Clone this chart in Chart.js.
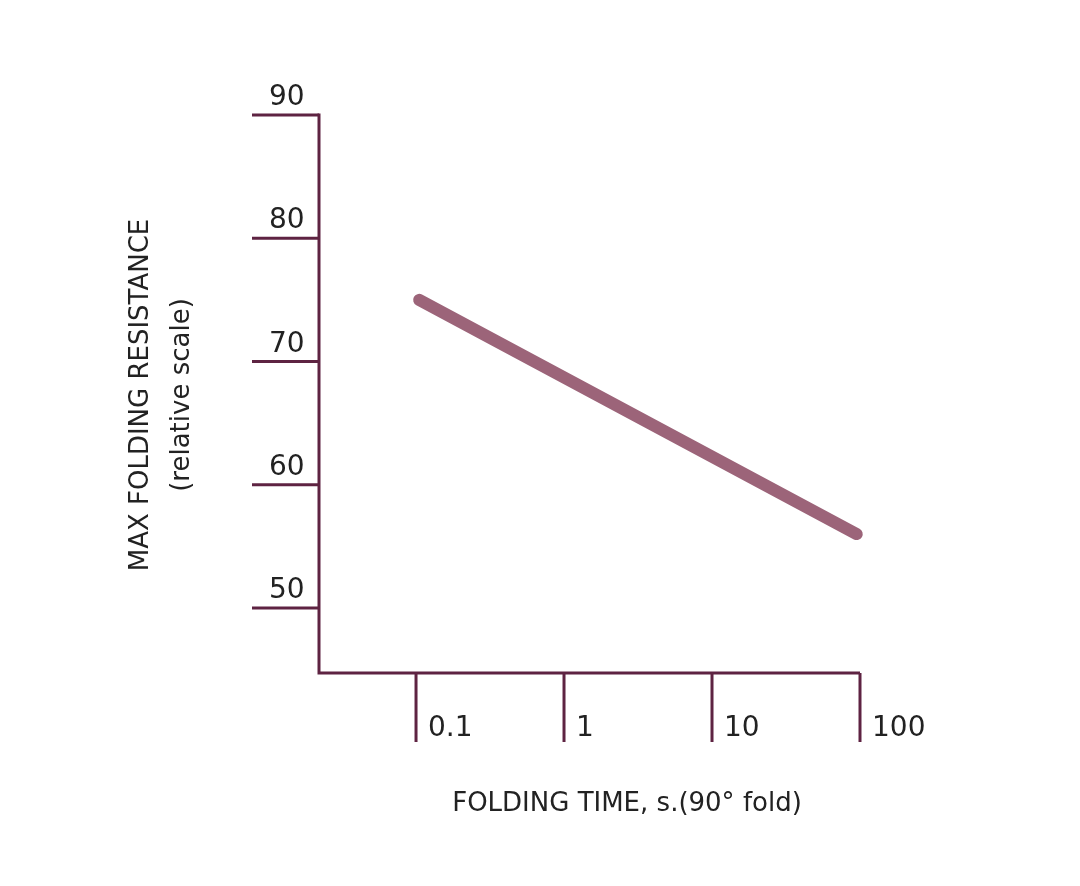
<!DOCTYPE html>
<html>
<head>
<meta charset="utf-8">
<script src="https://cdn.jsdelivr.net/npm/chart.js@4"></script>
<style>
  html, body { margin: 0; padding: 0; background: #fff; }
  #wrap { width: 1080px; height: 886px; }
</style>
</head>
<body>
<div id="wrap"><canvas id="fold"></canvas></div>
<script>
const foldTime = [0.105, 95];
const resistance = [75, 56];
const xTicks = [0.1, 1, 10, 100];
const xTickLabels = ['0.1', '1', '10', '100'];
const yTicks = [50, 60, 70, 80, 90];
const yTitle = ['MAX FOLDING RESISTANCE', '(relative scale)'];
const xTitle = 'FOLDING TIME, s.(90° fold)';

const axisColor = '#5e2342';
const textColor = '#222';
const font = '"DejaVu Sans", sans-serif';

const axesPlugin = {
    id: 'axesPlugin',
    beforeDatasetsDraw(chart) {
        const { ctx, chartArea: a, scales: { x, y } } = chart;
        ctx.save();
        ctx.strokeStyle = axisColor;
        ctx.lineWidth = 3;
        ctx.lineCap = 'butt';
        ctx.beginPath();
        ctx.moveTo(a.left, y.getPixelForValue(90) - 1.5);
        ctx.lineTo(a.left, a.bottom);
        ctx.lineTo(x.getPixelForValue(100), a.bottom);
        ctx.stroke();

        ctx.fillStyle = textColor;
        ctx.font = '28px ' + font;
        // y ticks
        ctx.textAlign = 'left';
        ctx.textBaseline = 'alphabetic';
        yTicks.forEach(v => {
            const py = y.getPixelForValue(v);
            ctx.beginPath();
            ctx.moveTo(252, py);
            ctx.lineTo(a.left, py);
            ctx.stroke();
            ctx.fillText(String(v), 269, py - 10);
        });
        // x ticks
        ctx.textBaseline = 'middle';
        xTicks.forEach((v, i) => {
            const px = x.getPixelForValue(v);
            ctx.beginPath();
            ctx.moveTo(px, a.bottom);
            ctx.lineTo(px, 742);
            ctx.stroke();
            ctx.fillText(xTickLabels[i], px + 12, 729);
        });
        // titles
        ctx.font = '26px ' + font;
        ctx.textAlign = 'center';
        ctx.fillText(xTitle, 627, 804);
        ctx.translate(0, 395);
        ctx.rotate(-Math.PI / 2);
        ctx.fillText(yTitle[0], 0, 141);
        ctx.fillText(yTitle[1], 0, 182);
        ctx.restore();
    }
};

new Chart(document.getElementById('fold'), {
    type: 'line',
    data: {
        datasets: [{
            data: foldTime.map((t, i) => ({ x: t, y: resistance[i] })),
            borderColor: '#9c6479',
            borderWidth: 12,
            borderCapStyle: 'round',
            pointRadius: 0,
            clip: false,
        }]
    },
    options: {
        responsive: true,
        maintainAspectRatio: false,
        animation: false,
        layout: { padding: { left: 319, right: 220, top: 115, bottom: 213 } },
        scales: {
            x: { type: 'logarithmic', min: 0.0221, max: 100, display: false },
            y: { min: 44.73, max: 90, display: false }
        },
        plugins: { legend: { display: false }, tooltip: { enabled: false } }
    },
    plugins: [axesPlugin]
});
</script>
</body>
</html>
